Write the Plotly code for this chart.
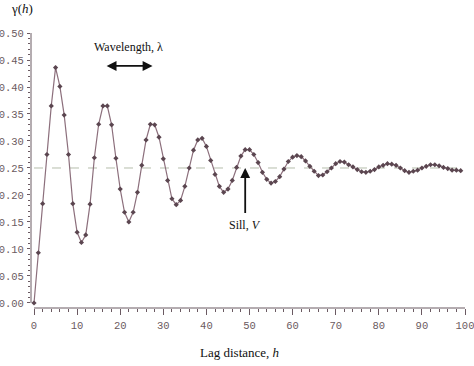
import plotly.graph_objects as go

# ---- data ----
lag = list(range(100))
gamma = [
    0.000, 0.093, 0.184, 0.275, 0.365, 0.436, 0.401, 0.348, 0.275, 0.184,
    0.131, 0.112, 0.126, 0.183, 0.269, 0.331, 0.365, 0.365, 0.330, 0.268,
    0.211, 0.168, 0.150, 0.168, 0.205, 0.255, 0.302, 0.331, 0.330, 0.307,
    0.267, 0.227, 0.193, 0.182, 0.190, 0.216, 0.250, 0.283, 0.302, 0.305,
    0.290, 0.264, 0.238, 0.216, 0.205, 0.211, 0.227, 0.251, 0.272, 0.284,
    0.284, 0.275, 0.260, 0.242, 0.229, 0.222, 0.225, 0.234, 0.248, 0.262,
    0.270, 0.273, 0.271, 0.263, 0.253, 0.244, 0.236, 0.237, 0.243, 0.250,
    0.258, 0.262, 0.261, 0.256, 0.252, 0.247, 0.243, 0.242, 0.244, 0.247,
    0.252, 0.255, 0.258, 0.257, 0.255, 0.250, 0.245, 0.242, 0.244, 0.246,
    0.250, 0.253, 0.256, 0.256, 0.254, 0.251, 0.249, 0.246, 0.246, 0.245,
]
sill = 0.25
wave_start, wave_end, wave_level = 16.5, 27.5, 0.439
sill_arrow_x, sill_arrow_tail = 49, 0.164
x_ticks = [0, 10, 20, 30, 40, 50, 60, 70, 80, 90, 100]
y_ticks = [0.00, 0.05, 0.10, 0.15, 0.20, 0.25, 0.30, 0.35, 0.40, 0.45, 0.50]

axis_col = "#6b5a62"
tick_font = dict(family="Liberation Mono", size=10.5, color="#6b5a60")
serif = "Liberation Serif"

fig = go.Figure()
fig.add_trace(go.Scatter(
    x=lag, y=gamma, mode="lines+markers",
    line=dict(color="#8c6f7c", width=1.2),
    marker=dict(symbol="diamond", size=4, color="#5b4650"),
    showlegend=False, hoverinfo="skip",
))

fig.add_shape(type="line", xref="x", yref="y", x0=lag[0], x1=lag[-1] + 1,
              y0=sill, y1=sill, line=dict(color="#b6bdab", width=1, dash="dash"),
              layer="below")
# separated axis lines (SAS style)
fig.add_shape(type="line", xref="paper", yref="y", x0=0, x1=0,
              y0=y_ticks[0], y1=y_ticks[-1], line=dict(color=axis_col, width=1))
fig.add_shape(type="line", xref="x", yref="paper", x0=x_ticks[0], x1=x_ticks[-1],
              y0=0, y1=0, line=dict(color=axis_col, width=1))

# wavelength double arrow
fig.add_annotation(x=wave_end, y=wave_level, ax=wave_start, ay=wave_level,
                   xref="x", yref="y", axref="x", ayref="y", text="",
                   showarrow=True, arrowside="end+start", arrowhead=2,
                   arrowsize=1.1, arrowwidth=1.8, arrowcolor="#111111")
fig.add_annotation(x=(wave_start + wave_end) / 2, y=0.474, xref="x", yref="y",
                   text="Wavelength, λ", showarrow=False,
                   font=dict(family=serif, size=12, color="#111111"))
# sill arrow
fig.add_annotation(x=sill_arrow_x, y=sill, ax=sill_arrow_x, ay=sill_arrow_tail,
                   xref="x", yref="y", axref="x", ayref="y", text="",
                   showarrow=True, arrowhead=2, arrowsize=1.1, arrowwidth=1.8,
                   arrowcolor="#111111")
fig.add_annotation(x=sill_arrow_x, y=0.145, xref="x", yref="y",
                   text="Sill, <i>V</i>", showarrow=False,
                   font=dict(family=serif, size=12, color="#111111"))
# axis titles
fig.add_annotation(x=47.6, y=0, xref="x", yref="paper", yshift=-44,
                   xanchor="center", yanchor="middle",
                   text="Lag distance, <i>h</i>", showarrow=False,
                   font=dict(family=serif, size=13, color="#111111"))
fig.add_annotation(x=0, y=1, xref="paper", yref="paper", xshift=-9, yshift=25,
                   xanchor="center", yanchor="middle",
                   text="γ(<i>h</i>)", showarrow=False,
                   font=dict(family=serif, size=13, color="#111111"))

fig.update_layout(
    width=474, height=366,
    margin=dict(l=31, r=8, t=33, b=58, autoexpand=False),
    paper_bgcolor="white", plot_bgcolor="white",
    xaxis=dict(range=[-0.70, 100.23], tickmode="array", tickvals=x_ticks,
               ticktext=[str(v) for v in x_ticks], automargin=False,
               ticklabeloverflow="allow",
               showgrid=False, zeroline=False, showline=False,
               ticks="outside", ticklen=6, tickcolor=axis_col,
               minor=dict(dtick=2, ticks="outside", ticklen=3, tickcolor=axis_col, showgrid=False),
               tickfont=tick_font, ticklabelstandoff=1),
    yaxis=dict(range=[-0.0093, 0.5], tickmode="array", tickvals=y_ticks,
               ticktext=[f"{v:.2f}" for v in y_ticks], automargin=False,
               ticklabeloverflow="allow",
               showgrid=False, zeroline=False, showline=False,
               ticks="outside", ticklen=3, tickcolor=axis_col,
               minor=dict(dtick=0.01, ticks="outside", ticklen=2, tickcolor=axis_col, showgrid=False),
               tickfont=tick_font, ticklabelstandoff=1),
)

fig.write_html("out.html", config={"displayModeBar": False},
               post_script="document.body.style.margin='0';document.body.style.padding='0';")
